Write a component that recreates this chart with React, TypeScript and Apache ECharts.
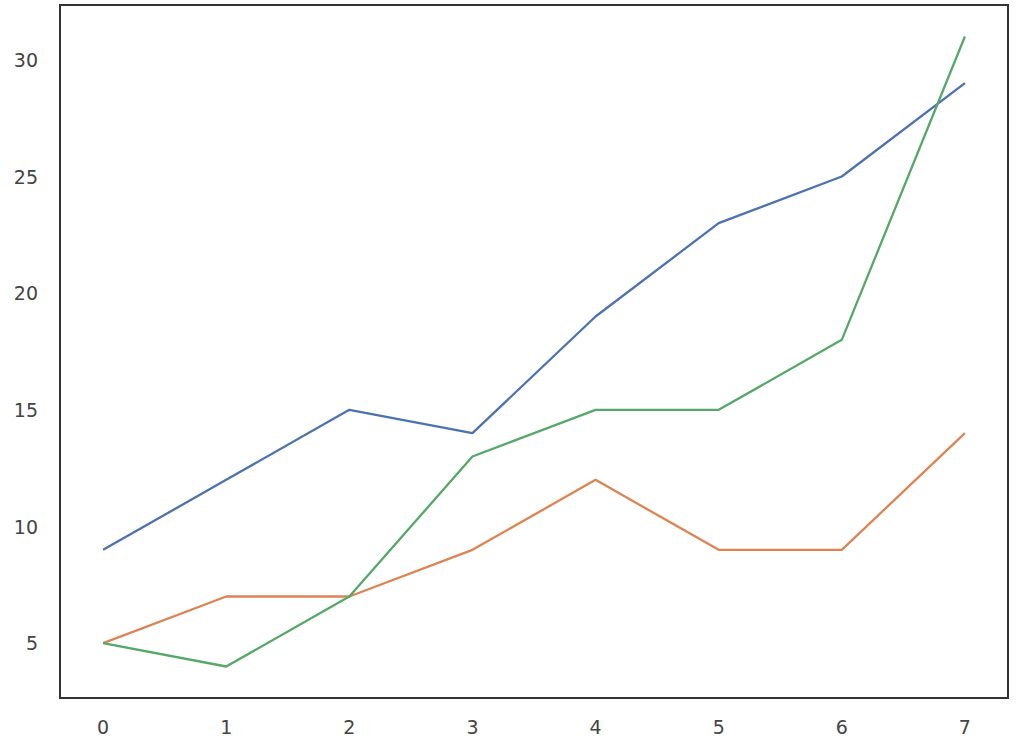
import React, { useEffect, useRef } from "react";
import * as echarts from "echarts";

const xValues = [0, 1, 2, 3, 4, 5, 6, 7];
const blueSeries = [9, 12, 15, 14, 19, 23, 25, 29];
const orangeSeries = [5, 7, 7, 9, 12, 9, 9, 14];
const greenSeries = [5, 4, 7, 13, 15, 15, 18, 31];
const xTicks = [0, 1, 2, 3, 4, 5, 6, 7];
const yTicks = [5, 10, 15, 20, 25, 30];

const labelStyle = {
  fontFamily: "DejaVu Sans",
  fontSize: 19,
  color: "#444444",
};

export default function App() {
  const ref = useRef<HTMLDivElement>(null);
  useEffect(() => {
    if (!ref.current) return;
    const chart = echarts.init(ref.current, undefined, { renderer: "svg" });
    const mk = (vals: number[], color: string) => ({
      type: "line",
      data: xValues.map((x, i) => [x, vals[i]]),
      showSymbol: false,
      lineStyle: { color, width: 2.3 },
      itemStyle: { color },
    });
    chart.setOption({
      animation: false,
      backgroundColor: "#ffffff",
      grid: {
        left: 60,
        right: 16,
        top: 5,
        bottom: 54,
        show: true,
        borderColor: "#333333",
        borderWidth: 2,
        backgroundColor: "transparent",
      },
      xAxis: {
        type: "value",
        min: -0.35,
        max: 7.35,
        axisLine: { show: false },
        axisTick: { show: false },
        splitLine: { show: false },
        axisLabel: { ...labelStyle, margin: 19, customValues: xTicks },
      },
      yAxis: {
        type: "value",
        min: 2.65,
        max: 32.35,
        axisLine: { show: false },
        axisTick: { show: false },
        splitLine: { show: false },
        axisLabel: { ...labelStyle, margin: 22, customValues: yTicks },
      },
      series: [
        mk(blueSeries, "#4C72B0"),
        mk(orangeSeries, "#DD8452"),
        mk(greenSeries, "#55A868"),
      ],
    });
    return () => chart.dispose();
  }, []);
  return (
    <div
      ref={ref}
      style={{ position: "fixed", left: 0, top: 0, width: 1024, height: 752, background: "#fff" }}
    />
  );
}
